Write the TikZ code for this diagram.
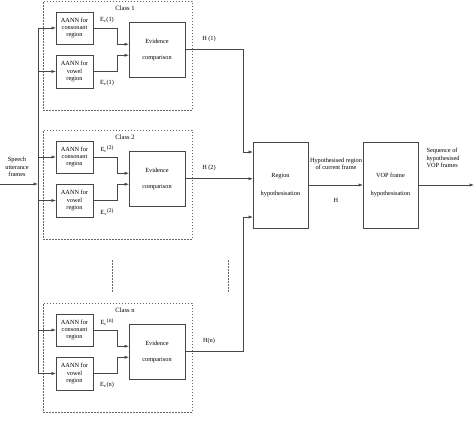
\documentclass[tikz,border=0pt]{standalone}
\usepackage{fontspec}
\setmainfont{Liberation Serif}
\usetikzlibrary{arrows.meta}
\newcommand{\upp}[1]{\raisebox{1.8pt}{\fontsize{5.6}{6}\selectfont #1}}
\begin{document}
\begin{tikzpicture}[x=1pt,y=-1pt,
 lbl/.style={font=\fontsize{6.3}{7.3}\selectfont, inner sep=0, align=center},
 blk/.style={draw=black!72, line width=0.75pt, inner sep=0, outer sep=0, align=center, font=\fontsize{6.3}{7.3}\selectfont},
 wire/.style={draw=black!72, line width=0.65pt},
 arr/.style={wire, -{Latex[length=4.5pt,width=3.2pt]}},
 grp/.style={draw=black!60, line width=0.6pt, dash pattern=on 1.6pt off 1.4pt}]
\useasboundingbox (0,0) rectangle (474,439);
\coordinate (bus) at (38,184);
\coordinate (src) at (0,184);
\foreach \o/\k/\ec/\ev/\hh in {12/1/{E\textsubscript{c}(1)}/{E\textsubscript{v}(1)}/{H (1)},
  141/2/{E\textsubscript{c}\upp{(2)}}/{E\textsubscript{v}\upp{(2)}}/{H (2)},
  314/n/{E\textsubscript{c}\upp{(n)}}/{E\textsubscript{v}(n)}/{H(n)}}{
  \node[grp, minimum width=149, minimum height=109, inner sep=0, anchor=north west] (cls\k) at (43,\o-11) {};
  \node[lbl, font=\fontsize{6.6}{7.5}\selectfont] at (125,\o-3.5) {Class \k};
  \node[blk, minimum width=37, minimum height=32, anchor=north west] (cons\k) at (56,\o) {AANN for\\consonant\\region};
  \node[blk, minimum width=37, minimum height=33, anchor=north west] (vow\k) at (56,\o+43) {AANN for\\vowel\\region};
  \node[blk, minimum width=56, minimum height=54.5, anchor=north west] (ev\k) at (129,\o+10.5) {Evidence\\[9pt]comparison};
  \coordinate (j\k) at (117,\o);
  \coordinate (eia\k) at ([yshift=5.5pt]ev\k.west);
  \coordinate (eib\k) at ([yshift=-5.5pt]ev\k.west);
  \draw[arr] (cons\k.east) -| (j\k |- eia\k) -- (eia\k);
  \draw[arr] (vow\k.east) -| (j\k |- eib\k) -- (eib\k);
  \draw[arr] (cons\k.west -| bus) -- (cons\k.west);
  \draw[arr] (vow\k.west -| bus) -- (vow\k.west);
  \node[lbl] at (107,\o+8) {\ec};
  \node[lbl] at (107,\o+71) {\ev};
  \node[lbl] at (209,\o+27) {\hh};
}
\draw[wire] (cons1.west -| bus) -- (vown.west -| bus);
\node[lbl] (sp) at (17,167) {Speech\\utterance\\frames};
\draw[arr] (src) -- (bus);
\draw[grp] (112,260) -- (112,292);
\draw[grp] (228,260) -- (228,292);
\node[blk, minimum width=55, minimum height=86] (reg) at (280.5,185) {Region\\[10pt]hypothesisation};
\node[blk, minimum width=55, minimum height=86] (vop) at (390.5,185) {VOP frame\\[10pt]hypothesisation};
\coordinate (h1) at (243,152);
\coordinate (hn) at (243,217);
\draw[arr] (ev1.east) -| (h1) -- (reg.west |- h1);
\draw[arr] (ev2.east) -- (reg.west |- ev2.east);
\draw[arr] (evn.east) -| (hn) -- (reg.west |- hn);
\draw[arr] (reg.east) -- (vop.west);
\node[lbl] (hr) at (336,164) {Hypothesised region\\of current frame};
\node[lbl] (hl) at (336,200) {H};
\coordinate (out) at (474,185);
\draw[arr] (vop.east) -- (out);
\node[lbl, align=left] (seq) at (443,158) {Sequence of\\hypothesised\\VOP frames};
\end{tikzpicture}
\end{document}
